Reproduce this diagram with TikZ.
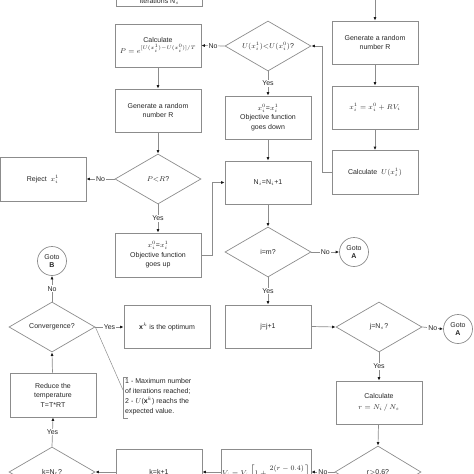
\documentclass[tikz,border=0pt]{standalone}
\usepackage{fontspec}
\setmainfont{Liberation Sans}
\usetikzlibrary{shapes.geometric,arrows.meta}
\begin{document}
\begin{tikzpicture}[x=1pt,y=-1pt, font=\fontsize{7}{9.5}\selectfont, text=black!85,
  box/.style={draw=black!45, line width=0.7pt, minimum width=86pt, minimum height=43pt, align=center, inner sep=1pt},
  dia/.style={draw=black!45, line width=0.7pt, diamond, aspect=1.72, minimum width=86pt, minimum height=50pt, inner sep=0pt, align=center},
  goto/.style={draw=black!45, line width=0.7pt, circle, minimum size=29pt, inner sep=0pt, align=center, font=\fontsize{7}{8.5}\selectfont},
  arr/.style={draw=black!45, line width=0.7pt, -{Latex[length=3.5pt,width=3pt,color=black!90]}},
  ln/.style={draw=black!45, line width=0.7pt},
  lbl/.style={fill=white, inner sep=1pt}]
\useasboundingbox (0,0) rectangle (474,474);
\clip (0,0) rectangle (474,474);
% left column
\node[box, minimum height=46pt] (top) at (159.5,-17) {};
\node (toptxt) at (159.5,1) {iterations N$_s$};
\node[box] (calcP) at (158,45.5) {Calculate\\[1pt] $P=e^{[U(x_i^1)-U(x_i^0)]/T}$};
\node[box] (genR1) at (158,110.5) {Generate a random\\number R};
\node[dia] (dPR) at (158,179) {$P{<}R$?};
\node[box, minimum height=44pt] (reject) at (43,179) {Reject\ \ $x_i^1$};
\node[box, minimum height=44pt] (up) at (158,255) {$x_i^0$=$x_i^1$\\Objective function\\goes up};
% middle column
\node[dia] (dU) at (268,46) {$U(x_i^1){<}U(x_i^0)$?};
\node[box] (down) at (268,117.5) {$x_i^0$=$x_i^1$\\Objective function\\goes down};
\node[box] (Nb) at (268,182.5) {N$_i$=N$_i$+1};
\node[dia] (dim) at (268,252) {i=m?};
\node[goto] (gA1) at (354,252) {Goto\\\textbf{A}};
\node[box] (jb) at (268,326.5) {j=j+1};
\node[dia] (djN) at (379,327) {j=N$_s$?};
\node[goto] (gA2) at (458,329) {Goto\\\textbf{A}};
\node[box] (calcr) at (379,402.5) {Calculate\\[2pt] $r=N_i\,/\,N_s$};
\node[dia, minimum height=52pt] (dr) at (378,472) {r$>$0.6?};
\node[box, minimum height=50pt] (Vb) at (266,474) {$V_i=V_i\left[1+\displaystyle\frac{2(r-0.4)}{0.4}\right]$};
\node[box, minimum height=50pt] (kb) at (159,474) {};
\node (kbtxt) at (159,472) {k=k+1};
\node[dia] (dk) at (52,472) {k=N$_t$?};
\node[box, minimum height=44pt] (red) at (53,395) {Reduce the\\temperature\\T=T*RT};
\node[dia] (dconv) at (52,327) {Convergence?};
\node[box] (opt) at (167,327) {$\mathbf{x}^k$ is the optimum};
\node[goto] (gB) at (52,261) {Goto\\\textbf{B}};
% right column
\coordinate (rtop) at (375,0);
\node[box] (genR2) at (375,42.5) {Generate a random\\number R};
\node[box] (xnew) at (375,107.5) {$x_i^1=x_i^0+RV_i$};
\node[box, minimum height=44pt] (calcU) at (375,172.5) {Calculate\ \ $U(x_i^1)$};
% connectors
\draw[arr] (dU.west) -- node[lbl]{No} (calcP.east);
\draw[arr] (calcP) -- (genR1);
\draw[arr] (genR1) -- (dPR.north);
\draw[arr] (dPR.west) -- node[lbl]{No} (reject.east);
\draw[arr] (dPR.south) -- node[lbl]{Yes} (up.north);
\draw[arr] (up.east) -- (212,255) -- (212,182.5) -- (Nb.west);
\draw[arr] (dU.south) -- node[lbl]{Yes} (down.north);
\draw[arr] (down) -- (Nb);
\draw[arr] (Nb) -- (dim.north);
\draw[arr] (dim.east) -- node[lbl]{No} (gA1.west);
\draw[arr] (dim.south) -- node[lbl]{Yes} (jb.north);
\draw[arr] (jb.east) -- (djN.west);
\draw[arr] (djN.east) -- node[lbl]{No} (gA2.west);
\draw[arr] (djN.south) -- node[lbl]{Yes} (calcr.north);
\draw[arr] (calcr) -- (dr.north);
\draw[arr] (dr.west) -- node[lbl]{No} (Vb.east |- dr.west);
\draw[arr] (Vb.west |- dr.west) -- (kb.east |- dr.west);
\draw[arr] (kb.west |- dr.west) -- (dk.east);
\draw[arr] (dk.north) -- node[lbl]{Yes} (red.south);
\draw[arr] (red) -- (dconv.south);
\draw[arr] (dconv.north) -- node[lbl]{No} (gB.south);
\draw[arr] (dconv.east) -- node[lbl]{Yes} (opt.west);
\draw[arr] (rtop) -- (genR2);
\draw[arr] (genR2) -- (xnew);
\draw[arr] (xnew) -- (calcU);
\draw[arr] (calcU.west) -- (322,172.5) -- (322,46) -- (dU.east);
% annotation
\coordinate (brk) at (123,390);
\draw[ln, line width=0.5pt] (dconv.east) -- (brk);
\draw[ln, line width=0.5pt] (128,377) -- (123,377) -- (123,418) -- (128,418);
\node[anchor=north west, align=left, inner sep=0pt, font=\fontsize{7}{10}\selectfont] (note) at (125,378)
 {1 - Maximum number\\of iterations reached;\\2 - $U$($\mathbf{x}^k$) reachs the\\expected value.};
\end{tikzpicture}
\end{document}
